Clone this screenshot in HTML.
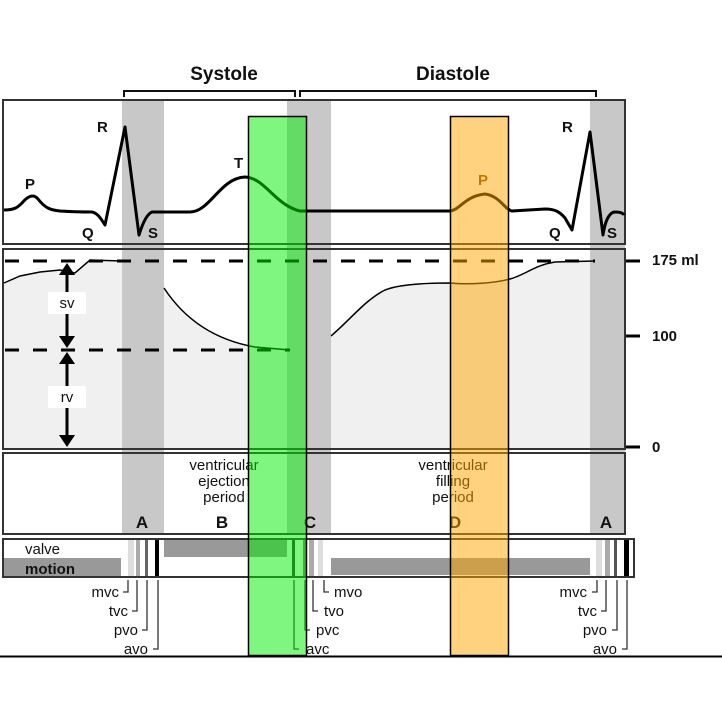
<!DOCTYPE html>
<html><head><meta charset="utf-8"><style>
html,body{margin:0;padding:0;background:#fff;}
svg{display:block;font-family:"Liberation Sans",Arial,sans-serif;}
</style></head><body>
<svg width="722" height="722" viewBox="0 0 722 722" xmlns="http://www.w3.org/2000/svg">
<rect width="722" height="722" fill="#fff"/>
<!-- headers -->
<text x="224" y="80" font-size="19" font-weight="bold" text-anchor="middle" fill="#111">Systole</text>
<text x="453" y="80" font-size="19" font-weight="bold" text-anchor="middle" fill="#111">Diastole</text>
<path d="M124,97 V91 H295 V97 M300,97 V91 H596 V97" fill="none" stroke="#111" stroke-width="2"/>
<!-- volume fill -->
<path d="M4,283 L20,276 L40,272 L60,270 L75,273 L90,260 L122,261 L122,448 L4,448 Z" fill="#f0f0f0"/>
<path d="M164,288 C185,320 215,340 255,347 L290,350 L290,448 L164,448 Z" fill="#f0f0f0"/>
<path d="M331,336 C350,320 365,300 385,290 C400,284 430,283 450,283 C470,285 495,283 510,279 C525,275 535,265 555,262 L595,261 L625,261 L625,448 L331,448 Z" fill="#f0f0f0"/>
<!-- gray bands -->
<rect x="122" y="101" width="42" height="433" fill="#c8c8c8"/>
<rect x="287" y="101" width="44" height="433" fill="#c8c8c8"/>
<rect x="590" y="101" width="35" height="433" fill="#c8c8c8"/>
<!-- panels -->
<rect x="3" y="100" width="622" height="144" fill="none" stroke="#333" stroke-width="2"/>
<rect x="3" y="249" width="622" height="200" fill="none" stroke="#333" stroke-width="2"/>
<rect x="3" y="453" width="622" height="81" fill="none" stroke="#333" stroke-width="2"/>
<!-- ECG -->
<path d="M4,210 C15,210 18,207 22,203 C27,197 33,193 38,199 C45,208 50,210 60,211 C75,212 85,212 92,212 C97,213 100,217 105,225 L125,127 L139,235 C143,222 147,214 152,212 L190,212 C210,212 220,178 245,177 C265,178 275,205 300,211 L450,211 C460,210 465,196 485,194 C500,196 505,210 512,211 L545,209 C555,209 560,212 565,218 L572,230 L590,132 L603,235 C606,215 612,212 615,212 C620,212 623,213 624,215" fill="none" stroke="#000" stroke-width="3" stroke-linejoin="round"/>
<g font-size="15" font-weight="bold" fill="#111">
<text x="25" y="189">P</text>
<text x="82" y="238">Q</text>
<text x="97" y="132">R</text>
<text x="148" y="238">S</text>
<text x="234" y="168">T</text>
<text x="478" y="185" fill="#7a5000">P</text>
<text x="549" y="238">Q</text>
<text x="562" y="132">R</text>
<text x="607" y="238">S</text>
</g>
<!-- volume curves -->
<path d="M4,283 L20,276 L40,272 L60,270 L75,273 L90,260 L122,261" fill="none" stroke="#000" stroke-width="1.5"/>
<path d="M164,288 C185,320 215,340 255,347 L290,350" fill="none" stroke="#000" stroke-width="1.5"/>
<path d="M331,336 C350,320 365,300 385,290 C400,284 430,283 450,283 C470,285 495,283 510,279 C525,275 535,265 555,262 L595,261" fill="none" stroke="#000" stroke-width="1.5"/>
<line x1="5" y1="261" x2="595" y2="261" stroke="#000" stroke-width="3" stroke-dasharray="14,14"/>
<line x1="5" y1="350" x2="290" y2="350" stroke="#000" stroke-width="3" stroke-dasharray="14,14"/>
<!-- arrows -->
<g stroke="#000" stroke-width="3" fill="#000">
<line x1="67" y1="270" x2="67" y2="340"/>
<line x1="67" y1="360" x2="67" y2="438"/>
</g>
<g fill="#000">
<polygon points="59,275 67,263 75,275"/>
<polygon points="59,336 67,348 75,336"/>
<polygon points="59,364 67,352 75,364"/>
<polygon points="59,435 67,447 75,435"/>
</g>
<rect x="48" y="292" width="38" height="22" fill="#fff"/>
<rect x="48" y="386" width="38" height="22" fill="#fff"/>
<text x="67" y="308" font-size="15" text-anchor="middle" fill="#111">sv</text>
<text x="67" y="402" font-size="15" text-anchor="middle" fill="#111">rv</text>
<!-- right axis -->
<g stroke="#000" stroke-width="3">
<line x1="626" y1="261" x2="640" y2="261"/>
<line x1="626" y1="336" x2="640" y2="336"/>
<line x1="626" y1="447" x2="640" y2="447"/>
</g>
<g font-size="15" font-weight="bold" fill="#111">
<text x="652" y="265">175 ml</text>
<text x="652" y="341">100</text>
<text x="652" y="452">0</text>
</g>
<!-- phase text -->
<g font-size="15" fill="#111" text-anchor="middle">
<text x="224" y="470">ventricular</text>
<text x="224" y="486">ejection</text>
<text x="224" y="502">period</text>
<text x="453" y="470">ventricular</text>
<text x="453" y="486">filling</text>
<text x="453" y="502">period</text>
</g>
<g font-size="17" font-weight="bold" fill="#111" text-anchor="middle">
<text x="142" y="528">A</text>
<text x="222" y="528">B</text>
<text x="310" y="528">C</text>
<text x="455" y="528">D</text>
<text x="606" y="528">A</text>
</g>
<!-- valve bar -->
<rect x="3" y="558" width="118" height="18" fill="#999"/>
<rect x="164" y="540" width="123" height="17" fill="#999"/>
<rect x="331" y="558" width="259" height="17" fill="#999"/>
<rect x="128" y="540" width="6" height="36" fill="#ddd"/>
<rect x="136" y="540" width="4" height="36" fill="#aaa"/>
<rect x="145" y="540" width="3" height="36" fill="#666"/>
<rect x="155" y="540" width="4" height="36" fill="#000"/>
<rect x="292" y="540" width="3" height="36" fill="#333"/>
<rect x="303" y="540" width="3" height="36" fill="#777"/>
<rect x="309" y="540" width="5" height="36" fill="#aaa"/>
<rect x="318" y="540" width="5" height="36" fill="#ddd"/>
<rect x="596" y="540" width="6" height="36" fill="#ddd"/>
<rect x="605" y="540" width="5" height="36" fill="#aaa"/>
<rect x="614" y="540" width="3" height="36" fill="#555"/>
<rect x="624" y="540" width="5" height="36" fill="#000"/>
<rect x="3" y="539" width="631" height="38" fill="none" stroke="#333" stroke-width="2"/>
<text x="25" y="554" font-size="15" fill="#111">valve</text>
<text x="25" y="574" font-size="15" font-weight="bold" fill="#111">motion</text>
<!-- valve labels -->
<g stroke="#333" stroke-width="1.3" fill="none">
<path d="M128,580 V592 H123"/>
<path d="M137,580 V611 H132"/>
<path d="M147,580 V630 H142"/>
<path d="M158,580 V649 H153"/>
<path d="M294,580 V649 H299"/>
<path d="M305,580 V630 H310"/>
<path d="M313,580 V611 H318"/>
<path d="M324,580 V592 H329"/>
<path d="M597,580 V592 H592"/>
<path d="M606,580 V611 H601"/>
<path d="M617,580 V630 H612"/>
<path d="M627,580 V649 H622"/>
</g>
<g font-size="15" fill="#111">
<text x="119" y="597" text-anchor="end">mvc</text>
<text x="128" y="616" text-anchor="end">tvc</text>
<text x="138" y="635" text-anchor="end">pvo</text>
<text x="148" y="654" text-anchor="end">avo</text>
<text x="306" y="654">avc</text>
<text x="316" y="635">pvc</text>
<text x="324" y="616">tvo</text>
<text x="334" y="597">mvo</text>
<text x="587" y="597" text-anchor="end">mvc</text>
<text x="597" y="616" text-anchor="end">tvc</text>
<text x="607" y="635" text-anchor="end">pvo</text>
<text x="617" y="654" text-anchor="end">avo</text>
</g>
<line x1="0" y1="656.5" x2="722" y2="656.5" stroke="#000" stroke-width="2"/>
<!-- highlight overlays -->
<rect x="248.5" y="116.5" width="58" height="539" fill="#00ee00" fill-opacity="0.5" stroke="#000" stroke-width="1.5"/>
<rect x="450.5" y="116.5" width="58" height="539" fill="#ffa500" fill-opacity="0.5" stroke="#000" stroke-width="1.5"/>
</svg>
</body></html>
